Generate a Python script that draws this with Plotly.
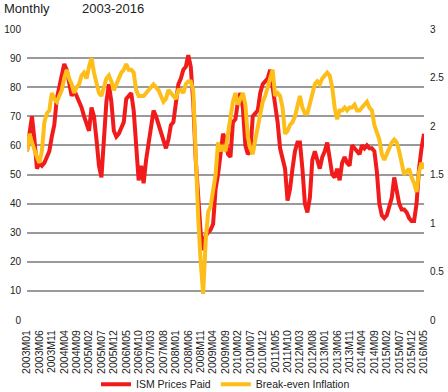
import plotly.graph_objects as go

# ---- data ----
months = [f"{y}M{m:02d}" for y in range(2003, 2017) for m in range(1, 13)]
months = months[:months.index("2016M05") + 1]

ism_prices_paid = [
    58, 64, 70, 62, 52, 54, 53, 54, 56, 58, 63, 67,
    76, 80, 84, 88, 86, 82, 77, 79, 77, 75, 73, 70,
    67, 65, 73, 70, 62, 53, 49, 63, 75, 81, 75, 65,
    63, 64, 66, 68, 76, 77, 78, 72, 60, 48, 53, 47,
    55, 61, 66, 72, 70, 67, 64, 61, 59, 62, 67, 68,
    74, 81, 83, 86, 87, 91, 87, 75, 55, 40, 30, 24,
    29, 30, 31, 33, 45, 50, 58, 64, 62, 57, 56, 68,
    69, 75, 78, 73, 60, 57, 58, 70, 71, 72, 78, 81,
    82, 83, 86, 80, 74, 68, 59, 56, 52, 41, 45, 52,
    58, 61, 61, 52, 40, 37, 42, 55, 58, 55, 52, 56,
    58, 61, 55, 50, 49, 52, 48, 54, 56, 54, 53, 60,
    59, 58, 57, 60, 59, 60, 59, 59, 58, 51, 40, 36,
    35, 36, 39, 42, 49, 45, 40, 38, 38, 37, 35, 34,
    34, 40, 52, 59, 64,
]

breakeven_inflation = [
    1.74, 1.92, 1.83, 1.74, 1.68, 1.62, 1.74, 2.04, 2.13, 2.16, 2.34, 2.28,
    2.25, 2.31, 2.37, 2.49, 2.58, 2.49, 2.43, 2.34, 2.40, 2.43, 2.52, 2.55,
    2.49, 2.61, 2.70, 2.55, 2.43, 2.34, 2.31, 2.40, 2.49, 2.52, 2.46, 2.37,
    2.43, 2.49, 2.55, 2.58, 2.64, 2.58, 2.58, 2.55, 2.37, 2.31, 2.31, 2.31,
    2.34, 2.37, 2.40, 2.43, 2.40, 2.37, 2.31, 2.25, 2.28, 2.37, 2.34, 2.31,
    2.28, 2.37, 2.37, 2.34, 2.43, 2.46, 2.46, 2.37, 1.65, 1.05, 0.60, 0.27,
    0.81, 1.11, 1.17, 1.32, 1.50, 1.83, 1.74, 1.80, 1.74, 1.92, 2.10, 2.25,
    2.34, 2.22, 2.28, 2.34, 2.22, 1.89, 1.77, 1.71, 1.86, 1.98, 2.13, 2.25,
    2.31, 2.40, 2.49, 2.58, 2.31, 2.34, 2.31, 2.19, 1.92, 1.95, 2.01, 2.04,
    2.10, 2.19, 2.31, 2.19, 2.13, 2.13, 2.22, 2.31, 2.43, 2.46, 2.43, 2.49,
    2.52, 2.55, 2.52, 2.40, 2.19, 2.07, 2.16, 2.16, 2.19, 2.16, 2.19, 2.19,
    2.22, 2.16, 2.16, 2.19, 2.22, 2.25, 2.19, 2.16, 2.01, 1.92, 1.86, 1.71,
    1.65, 1.71, 1.77, 1.83, 1.86, 1.83, 1.74, 1.59, 1.50, 1.53, 1.56, 1.47,
    1.41, 1.32, 1.53, 1.62, 1.56,
]

tick_labels = months[::5]

if not (len(months) == len(ism_prices_paid) == len(breakeven_inflation)):
    raise ValueError(f"len mismatch {len(months)} {len(ism_prices_paid)} {len(breakeven_inflation)}")

RED = "#F21B1B"
YELLOW = "#FDBE1A"
FONT = "Liberation Sans, Arial, sans-serif"

fig = go.Figure()
fig.add_trace(go.Scatter(
    x=months, y=ism_prices_paid, name="ISM Prices Paid", mode="lines",
    line=dict(color=RED, width=4), yaxis="y"))
fig.add_trace(go.Scatter(
    x=months, y=breakeven_inflation, name="Break-even Inflation", mode="lines",
    line=dict(color=YELLOW, width=4), yaxis="y2"))

fig.update_layout(
    width=448, height=392,
    margin=dict(l=27, r=24, t=29, b=72, autoexpand=False),
    paper_bgcolor="white", plot_bgcolor="white",
    font=dict(family=FONT, size=10, color="#222222"),
    showlegend=True,
    legend=dict(orientation="h", x=0.5, xanchor="center", y=0.02, yanchor="middle",
                yref="container", font=dict(size=10.5, color="#222222"),
                bgcolor="rgba(0,0,0,0)",
                itemwidth=30, tracegroupgap=0),
    xaxis=dict(type="category", categoryorder="array", categoryarray=months,
               range=[0, len(months) - 1], tickmode="array",
               tickvals=tick_labels, ticktext=tick_labels, tickangle=-90,
               showgrid=False, zeroline=False, showline=False, ticks="",
               automargin=False, ticklabelstandoff=7,
               tickfont=dict(size=10.5, color="#222222")),
    yaxis=dict(range=[0, 100], dtick=10, showgrid=True, gridcolor="#9A9A9A",
               gridwidth=1.5, zeroline=False, showline=False, ticks="",
               automargin=False, ticklabelstandoff=5,
               tickfont=dict(size=10, color="#222222")),
    yaxis2=dict(range=[0, 3], dtick=0.5, overlaying="y", side="right",
                showgrid=False, zeroline=False, showline=False, ticks="",
                automargin=False, ticklabelstandoff=5,
                tickfont=dict(size=10, color="#222222")),
    annotations=[
        dict(text="Monthly", xref="paper", yref="paper", x=-0.063, y=1.072,
             xanchor="left", yanchor="middle", showarrow=False,
             font=dict(size=13, color="#222222")),
        dict(text="2003-2016", xref="paper", yref="paper", x=0.1335, y=1.072,
             xanchor="left", yanchor="middle", showarrow=False,
             font=dict(size=13, color="#222222")),
    ],
)

fig.write_html("out.html", config={"displayModeBar": False},
               post_script="document.body.style.margin='0';")
